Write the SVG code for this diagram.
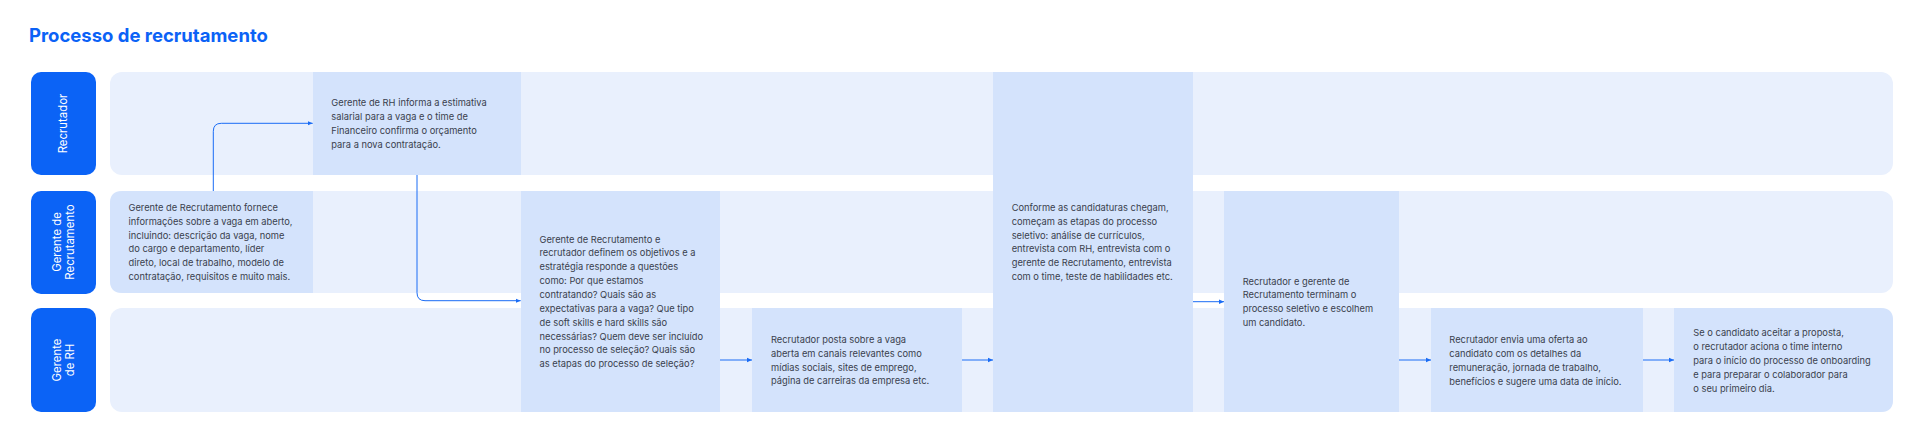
<svg xmlns="http://www.w3.org/2000/svg" width="1920" height="441" viewBox="0 0 1920 441">
<defs>
<style>
.title{font-family:Inter,"Liberation Sans",sans-serif;font-size:18.5px;font-weight:700;fill:#0b62f6}
.lane{fill:#e9f0fd}
.lbl{fill:#0b63f6}
.lbltxt{font-family:Inter,"Liberation Sans",sans-serif;font-size:11.4px;fill:#ffffff;text-anchor:middle}
.box{fill:#d4e3fc}
.txt{font-family:Inter,"Liberation Sans",sans-serif;font-size:9.3px;fill:#3a3f4d}
.conn{fill:none;stroke:#1a6cf5;stroke-width:1}
</style>
<marker id="arr" markerWidth="6" markerHeight="6" refX="5" refY="3" orient="auto" markerUnits="userSpaceOnUse">
<path d="M0,0.8 L5,3 L0,5.2 Z" fill="#1a6cf5"/>
</marker>
</defs>
<rect width="1920" height="441" fill="#ffffff"/>
<text class="title" x="29" y="41.7">Processo de recrutamento</text>

<g id="lanes">
<g id="lane-recrutador">
<rect class="lbl" x="31" y="72" width="65" height="103" rx="10"/>
<rect class="lane" x="110" y="72" width="1783" height="103" rx="12"/>
<text class="lbltxt" transform="translate(63.3,123.5) rotate(-90)" y="4.1">Recrutador</text>
</g>
<g id="lane-gerente-recrutamento">
<rect class="lbl" x="31" y="191" width="65" height="103" rx="10"/>
<rect class="lane" x="110" y="191" width="1783" height="102" rx="12"/>
<text class="lbltxt" transform="translate(63.3,242) rotate(-90)"><tspan x="0" y="-2.6">Gerente de</tspan><tspan x="0" y="10.7">Recrutamento</tspan></text>
</g>
<g id="lane-gerente-rh">
<rect class="lbl" x="31" y="308" width="65" height="104" rx="10"/>
<rect class="lane" x="110" y="308" width="1783" height="104" rx="12"/>
<text class="lbltxt" transform="translate(63.3,360) rotate(-90)"><tspan x="0" y="-2.6">Gerente</tspan><tspan x="0" y="10.7">de RH</tspan></text>
</g>
</g>

<g id="node-fornece">
<path class="box" d="M122,191 H313 V293 H122 Q110,293 110,281 V203 Q110,191 122,191 Z"/>
<text class="txt" x="128.5" y="210.8"><tspan x="128.5">Gerente de Recrutamento fornece</tspan><tspan x="128.5" dy="13.85">informações sobre a vaga em aberto,</tspan><tspan x="128.5" dy="13.85">incluindo: descrição da vaga, nome</tspan><tspan x="128.5" dy="13.85">do cargo e departamento, líder</tspan><tspan x="128.5" dy="13.85">direto, local de trabalho, modelo de</tspan><tspan x="128.5" dy="13.85">contratação, requisitos e muito mais.</tspan></text>
</g>

<g id="node-rh-informa">
<rect class="box" x="313" y="72" width="208" height="103"/>
<text class="txt" x="331.3" y="106.1"><tspan x="331.3">Gerente de RH informa a estimativa</tspan><tspan x="331.3" dy="13.85">salarial para a vaga e o time de</tspan><tspan x="331.3" dy="13.85">Financeiro confirma o orçamento</tspan><tspan x="331.3" dy="13.85">para a nova contratação.</tspan></text>
</g>

<g id="node-definem">
<rect class="box" x="521" y="191" width="199" height="221"/>
<text class="txt" x="539.5" y="242.6"><tspan x="539.5">Gerente de Recrutamento e</tspan><tspan x="539.5" dy="13.85">recrutador definem os objetivos e a</tspan><tspan x="539.5" dy="13.85">estratégia responde a questões</tspan><tspan x="539.5" dy="13.85">como: Por que estamos</tspan><tspan x="539.5" dy="13.85">contratando? Quais são as</tspan><tspan x="539.5" dy="13.85">expectativas para a vaga? Que tipo</tspan><tspan x="539.5" dy="13.85">de soft skills e hard skills são</tspan><tspan x="539.5" dy="13.85">necessárias? Quem deve ser incluído</tspan><tspan x="539.5" dy="13.85">no processo de seleção? Quais são</tspan><tspan x="539.5" dy="13.85">as etapas do processo de seleção?</tspan></text>
</g>

<g id="node-posta">
<rect class="box" x="752" y="308" width="210" height="104"/>
<text class="txt" x="771" y="342.8"><tspan x="771">Recrutador posta sobre a vaga</tspan><tspan x="771" dy="13.85">aberta em canais relevantes como</tspan><tspan x="771" dy="13.85">mídias sociais, sites de emprego,</tspan><tspan x="771" dy="13.85">página de carreiras da empresa etc.</tspan></text>
</g>

<g id="node-conforme">
<rect class="box" x="993" y="72" width="200" height="340"/>
<text class="txt" x="1011.7" y="210.8"><tspan x="1011.7">Conforme as candidaturas chegam,</tspan><tspan x="1011.7" dy="13.85">começam as etapas do processo</tspan><tspan x="1011.7" dy="13.85">seletivo: análise de currículos,</tspan><tspan x="1011.7" dy="13.85">entrevista com RH, entrevista com o</tspan><tspan x="1011.7" dy="13.85">gerente de Recrutamento, entrevista</tspan><tspan x="1011.7" dy="13.85">com o time, teste de habilidades etc.</tspan></text>
</g>

<g id="node-terminam">
<rect class="box" x="1224" y="191" width="175" height="221"/>
<text class="txt" x="1242.7" y="284.5"><tspan x="1242.7">Recrutador e gerente de</tspan><tspan x="1242.7" dy="13.85">Recrutamento terminam o</tspan><tspan x="1242.7" dy="13.85">processo seletivo e escolhem</tspan><tspan x="1242.7" dy="13.85">um candidato.</tspan></text>
</g>

<g id="node-oferta">
<rect class="box" x="1431" y="308" width="212" height="104"/>
<text class="txt" x="1449.3" y="343.1"><tspan x="1449.3">Recrutador envia uma oferta ao</tspan><tspan x="1449.3" dy="13.85">candidato com os detalhes da</tspan><tspan x="1449.3" dy="13.85">remuneração, jornada de trabalho,</tspan><tspan x="1449.3" dy="13.85">benefícios e sugere uma data de início.</tspan></text>
</g>

<g id="node-onboarding">
<path class="box" d="M1674,308 H1881 Q1893,308 1893,320 V400 Q1893,412 1881,412 H1674 Z"/>
<text class="txt" x="1693.3" y="336.2"><tspan x="1693.3">Se o candidato aceitar a proposta,</tspan><tspan x="1693.3" dy="13.85">o recrutador aciona o time interno</tspan><tspan x="1693.3" dy="13.85">para o início do processo de onboarding</tspan><tspan x="1693.3" dy="13.85">e para preparar o colaborador para</tspan><tspan x="1693.3" dy="13.85">o seu primeiro dia.</tspan></text>
</g>

<g id="connectors">
<path class="conn" d="M213.3,191 V131.3 Q213.3,123.3 221.3,123.3 H312.7" marker-end="url(#arr)"/>
<path class="conn" d="M417,175 V292.7 Q417,300.7 425,300.7 H520.7" marker-end="url(#arr)"/>
<path class="conn" d="M720,360 H752" marker-end="url(#arr)"/>
<path class="conn" d="M962,360 H993" marker-end="url(#arr)"/>
<path class="conn" d="M1193,301.7 H1224" marker-end="url(#arr)"/>
<path class="conn" d="M1399,360 H1431" marker-end="url(#arr)"/>
<path class="conn" d="M1643,360 H1674" marker-end="url(#arr)"/>
</g>
</svg>
